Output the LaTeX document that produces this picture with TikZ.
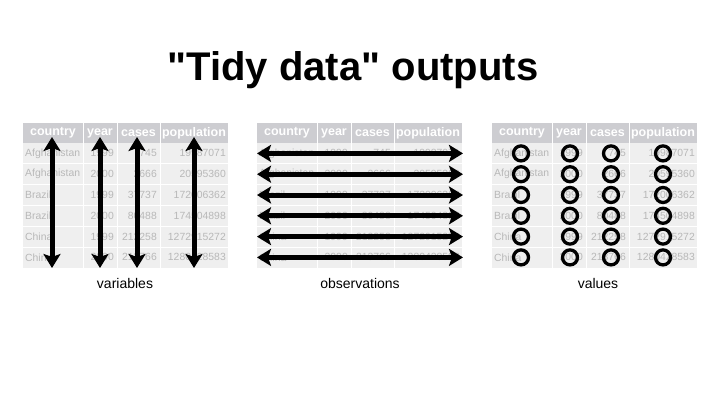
\documentclass[tikz,border=0pt]{standalone}
\usepackage{fontspec}
\setmainfont{Liberation Sans}
\newfontfamily\titlefont{Liberation Sans}
\usetikzlibrary{arrows.meta}
\definecolor{hdr}{HTML}{CDCDD1}
\definecolor{rowbg}{HTML}{EFEFEF}
\definecolor{celltxt}{HTML}{B8B8B8}
\newcommand\tidytable[2]{%
  \begin{scope}[xshift=#1pt]
    \fill[hdr] (0,123) rectangle (205,143);
    \fill[rowbg] (0,143) rectangle (205,268);
    \foreach \yy in {163.8,184.6,205.4,226.2,247.0}
      \draw[white,line width=1pt] (0,\yy) -- (205,\yy);
    \foreach \xx in {60,94,137}
      \draw[white,line width=1pt] (\xx,123) -- (\xx,268);
    \node[hd] (#2h1) at (30,133) {country};
    \node[hd] (#2h2) at (77,133) {year};
    \node[hd] (#2h3) at (115.5,133) {cases};
    \node[hd] (#2h4) at (171,133) {population};
    \foreach \i/\c/\yr/\ca/\p in {1/Afghanistan/1999/745/19987071,
        2/Afghanistan/2000/2666/20595360,
        3/Brazil/1999/37737/172006362,
        4/Brazil/2000/80488/174504898,
        5/China/1999/212258/1272915272,
        6/China/2000/213766/1280428583}{
      \pgfmathsetmacro\ry{143+20.8*(\i-0.5)}
      \node[dt,anchor=west] (#2c\i) at (2,\ry) {\c};
      \node[dt,anchor=east] (#2y\i) at (91,\ry) {\yr};
      \node[dt,anchor=east] (#2a\i) at (134,\ry) {\ca};
      \node[dt,anchor=east] (#2p\i) at (203,\ry) {\p};
    }
  \end{scope}}
\begin{document}
\begin{tikzpicture}[x=1pt,y=-1pt,
  hd/.style={inner sep=0pt,text=white,font=\fontsize{12.5}{14}\selectfont\bfseries},
  dt/.style={inner sep=0pt,text=celltxt,font=\fontsize{10.4}{12}\selectfont},
  lbl/.style={inner sep=0pt,font=\fontsize{14}{16}\selectfont},
  bigarrow/.style={line width=5pt,{Stealth[width=17pt,length=14pt,inset=3pt]}-{Stealth[width=17pt,length=14pt,inset=3pt]}},
  ring/.style={circle,draw=black,line width=3.3pt,minimum size=15pt,inner sep=0pt}]
\useasboundingbox (0,0) rectangle (720,405);
\fill[white] (0,0) rectangle (720,405);
\node[inner sep=0pt,anchor=base,font=\titlefont\fontsize{40}{46}\selectfont\bfseries] (title) at (353,80) {"Tidy data" outputs};
\tidytable{23}{A}
\tidytable{257}{B}
\tidytable{492}{C}
% variables arrows
\foreach \xx [count=\k] in {52,100,137,194}{
  \coordinate (vt\k) at (\xx,137);
  \coordinate (vb\k) at (\xx,268);
  \draw[bigarrow] (vt\k) -- (vb\k);
}
% observations arrows
\foreach \yy [count=\k] in {153.4,174.2,195.0,215.8,236.6,257.4}{
  \coordinate (ol\k) at (257,\yy);
  \coordinate (or\k) at (463,\yy);
  \draw[bigarrow] (ol\k) -- (or\k);
}
% values circles
\foreach \xx [count=\j] in {521,570,611,663}{
  \foreach \yy [count=\k] in {153.4,174.2,195.0,215.8,236.6,257.4}{
    \node[ring] (v\j-\k) at (\xx,\yy) {};
  }
}
\node[lbl] (labA) at (125,283) {variables};
\node[lbl] (labB) at (360,283) {observations};
\node[lbl] (labC) at (598,283) {values};
\end{tikzpicture}
\end{document}
